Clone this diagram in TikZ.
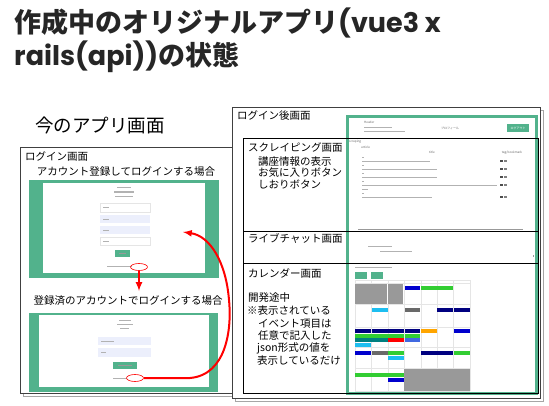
\documentclass[tikz,border=0pt]{standalone}
\usepackage{fontspec}
\setmainfont{Noto Sans CJK JP}
\newfontfamily\popfont{Poppins}
\usepackage{tikz}
\usetikzlibrary{positioning,shapes.geometric}

\definecolor{appgreen}{RGB}{82,178,140}
\definecolor{field}{RGB}{236,239,252}
\definecolor{titlegray}{RGB}{38,38,38}
\definecolor{evnavy}{RGB}{0,0,128}
\definecolor{evblue}{RGB}{0,0,205}
\definecolor{evgreen}{RGB}{50,205,50}
\definecolor{evcyan}{RGB}{30,190,240}
\definecolor{evdim}{RGB}{105,105,105}
\definecolor{evorange}{RGB}{255,165,0}
\definecolor{evteal}{RGB}{0,128,128}
\definecolor{evred}{RGB}{255,0,0}
\definecolor{evroyal}{RGB}{65,105,225}

\tikzset{
    lbl/.style={inner sep=0pt, anchor=west, font=\fontsize{10.5}{12}\selectfont},
    panel/.style={draw=black!75, fill=white},
    panelshadow/.style={draw=black!35, line width=0.8pt},
    rowbox/.style={draw=black, line width=0.6pt},
    dummy/.style={fill=black!30},
    tiny/.style={inner sep=0pt, font=\fontsize{3}{3}\selectfont, text=black!60},
    hint/.style={draw=red, ellipse, line width=0.6pt, minimum width=17pt, minimum height=7pt, inner sep=0pt},
    redarrow/.style={draw=red, line width=2pt, -latex},
}

\begin{document}
\begin{tikzpicture}[x=1pt, y=-1pt]
    \useasboundingbox (0,0) rectangle (549,406);

    % title
    \node[anchor=base west, inner sep=0pt, font=\fontsize{27}{30}\selectfont\bfseries, text=titlegray]
        (title1) at (14,33) {作成中のオリジナルアプリ{\popfont(vue3 x}};
    \node[anchor=base west, inner sep=0pt, font=\fontsize{27}{30}\selectfont\bfseries, text=titlegray]
        (title2) at (14,66) {{\popfont rails(api))}の状態};

    \node[inner sep=0pt, anchor=west, font=\fontsize{18.5}{20}\selectfont] (now) at (35,125) {今のアプリ画面};

    % left panel
    \draw[panelshadow] (23,150) rectangle (236,396);
    \draw[panel] (20,147) rectangle (233,393);
    \node[lbl] (login) at (25,157) {ログイン画面};
    \node[lbl, anchor=center] (case1) at (126,172) {アカウント登録してログインする場合};
    \node[lbl, anchor=center] (case2) at (128,301) {登録済のアカウントでログインする場合};

    % screenshot: sign up
    \fill[appgreen] (29,180) rectangle (219,278);
    \fill[white] (43,183) rectangle (205,273);
    \fill[dummy] (117,187) rectangle (131,188.2);
    \fill[dummy] (114,191.5) rectangle (134,192.7);
    \fill[dummy] (115,196) rectangle (133,197.2);
    \draw[black!10, fill=white] (100,203) rectangle (150,212);
    \fill[field] (100,215) rectangle (150,223);
    \fill[field] (100,226) rectangle (150,234);
    \draw[black!10, fill=white] (100,237) rectangle (150,245);
    \foreach \y in {207.5,219,230,241}
        \fill[dummy] (103,\y) rectangle (109,{\y+1});
    \fill[appgreen] (115,250) rectangle (130,257);
    \fill[black!40] (119,253) rectangle (126,254);
    \fill[dummy] (107,266.5) rectangle (132,267.5);
    \node[hint] (signup) at (139,267) {};

    % screenshot: login
    \fill[appgreen] (29,313) rectangle (218,392);
    \fill[white] (39,315) rectangle (209,387);
    \fill[dummy] (119,319.5) rectangle (131,320.7);
    \fill[dummy] (117,323.5) rectangle (133,324.7);
    \fill[dummy] (120,327.5) rectangle (129,328.7);
    \fill[field] (98,337) rectangle (151,345);
    \fill[field] (98,348) rectangle (151,357);
    \fill[dummy] (101,340.5) rectangle (114,341.5);
    \fill[dummy] (101,352) rectangle (106,353);
    \fill[appgreen] (113,362) rectangle (137,369);
    \fill[black!40] (118,365) rectangle (132,366);
    \fill[dummy] (113,377.5) rectangle (127,378.5);
    \node[hint] (guest) at (135,378) {};

    \coordinate (downtip) at (139,291);
    \coordinate (backtip) at (183,232);
    \draw[redarrow] (signup) -- (downtip);
    \draw[redarrow] (guest.east) -- (190,378) .. controls (226,375) and (232,330) .. (229,300)
        .. controls (226,262) and (210,236) .. (backtip);

    % right panel
    \draw[panelshadow] (235,110) rectangle (543,401);
    \draw[panel] (232,107) rectangle (540,398);
    \node[lbl] (after) at (237,116) {ログイン後画面};

    % screenshot: after login
    \draw[appgreen, line width=3pt, fill=white] (347,117) rectangle (536,393);
    \node[tiny, anchor=west] (hdr) at (364,122) {Header};
    \fill[dummy] (364,127.5) rectangle (392,128.5);
    \fill[dummy] (364,131.5) rectangle (405,132.5);
    \node[tiny, anchor=west] (profile) at (441,128) {プロフィール};
    \fill[appgreen] (507,124.5) rectangle (529,132.5);
    \node[tiny, text=white] (logout) at (518,128.5) {ログアウト};
    \node[tiny, anchor=west] (scrap) at (349,141.5) {scraping};
    \node[tiny, anchor=west] (article) at (361,147.5) {article};
    \node[tiny] (ttl) at (432,152.5) {title};
    \node[tiny] (tag) at (512,152.5) {tag/bookmark};
    \foreach \y/\len in {161/68,169/75,177/75,185/135,197/70} {
        \fill[dummy] (362,{\y-3.5}) rectangle (363.5,{\y-2.5});
        \fill[dummy] (362,\y) rectangle ({362+\len},{\y+1});
        \fill[black!70] (500,{\y-1}) rectangle (503,{\y+1.5});
        \fill[black!50] (504,{\y-1}) rectangle (507,{\y+1.5});
    }
    \fill[dummy] (362,189) rectangle (368,190);
    \draw[black!40] (358,229) -- (523,229);
    \fill[dummy] (368,246.5) rectangle (392,247.3);
    \fill[dummy] (380,251) rectangle (412,251.8);
    \fill[black!40] (533,255) rectangle (534,257);

    % calendar
    \fill[dummy] (355,267.5) rectangle (392,268.3);
    \fill[appgreen] (355,272) rectangle (367,279);
    \fill[appgreen] (371,272) rectangle (383,279);
    \foreach \y in {280,283,304,327,347,368,391}
        \draw[black!10] (355,\y) -- (470,\y);
    \foreach \i in {0,...,7}
        \draw[black!10] ({355+16.43*\i},280) -- ({355+16.43*\i},391);
    \fill[black!40] (355,283.5) rectangle (387,304);
    \fill[black!40] (388,283.5) rectangle (403,304);
    \fill[black!40] (404,368.5) rectangle (470,391);
    \foreach \a/\b/\y/\c in {4/4/286/evblue, 5/6/286/evgreen,
        2/2/308/evcyan, 4/4/308/evdim, 6/6/308/evnavy, 7/7/308/evnavy,
        1/1/329/evnavy, 2/2/329/evnavy, 3/3/329/evnavy, 4/4/329/evnavy, 5/5/329/evorange, 7/7/329/evblue,
        1/2/333.5/evgreen, 3/3/333.5/evgreen, 4/4/333.5/evgreen,
        1/2/338/evteal, 3/3/338/evred, 4/4/338/evroyal, 1/1/342.5/evcyan,
        1/1/351/evblue, 2/2/351/evdim, 3/3/351/evgreen, 5/6/351/evnavy, 7/7/351/evgreen, 3/3/355.5/evcyan,
        1/3/373/evgreen, 3/3/377.5/evblue}
        \fill[\c] ({355+16.43*(\a-1)+0.3},\y) rectangle ({355+16.43*\b-0.3},{\y+4});

    % rows
    \draw[rowbox] (243,138) rectangle (538,231);
    \draw[rowbox] (243,231) rectangle (538,263);
    \draw[rowbox] (243,263) rectangle (538,393);

    \node[lbl] (scrape) at (248,148) {スクレイピング画面};
    \node[lbl] (course) at (258,162) {講座情報の表示};
    \node[lbl] (fav) at (258,173) {お気に入りボタン};
    \node[lbl] (bookmark) at (258,184) {しおりボタン};
    \node[lbl] (chat) at (248,238) {ライブチャット画面};
    \node[lbl] (calendar) at (248,273) {カレンダー画面};
    \node[lbl] (wip) at (248,298) {開発途中};
    \node[lbl] (note1) at (247,311) {※表示されている};
    \node[lbl] (note2) at (258,323.5) {イベント項目は};
    \node[lbl] (note3) at (258,336) {任意で記入した};
    \node[lbl] (note4) at (257,348.5) {json形式の値を};
    \node[lbl] (note5) at (257,361) {表示しているだけ};
\end{tikzpicture}
\end{document}
